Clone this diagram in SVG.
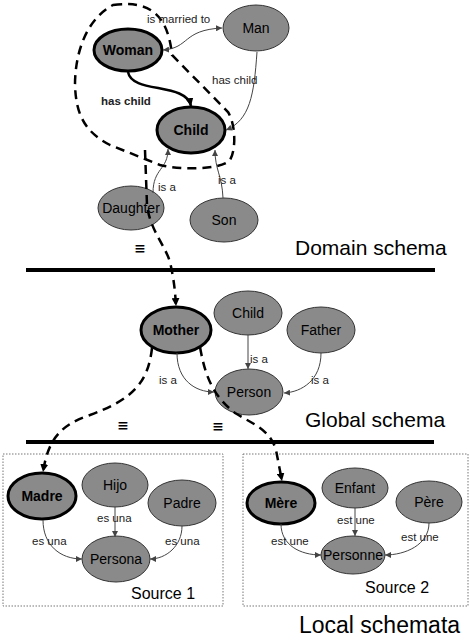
<svg xmlns="http://www.w3.org/2000/svg" width="470" height="641" viewBox="0 0 470 641">
<style>
.n{fill:#8a8a8a;stroke:#333;stroke-width:1}
.b{fill:#8a8a8a;stroke:#000;stroke-width:3}
.t{font-family:"Liberation Sans",Arial,sans-serif;font-size:14px;fill:#000;text-anchor:middle}
.tb{font-family:"Liberation Sans",Arial,sans-serif;font-size:14px;font-weight:bold;fill:#000;text-anchor:middle}
.l{font-family:"Liberation Sans",Arial,sans-serif;font-size:11.5px;fill:#222}
.h{font-family:"Liberation Sans",Arial,sans-serif;font-size:21px;fill:#000}
.eq{font-family:"DejaVu Sans",sans-serif;font-size:14px;font-weight:bold;fill:#000;text-anchor:middle}
.c{fill:none;stroke:#444;stroke-width:1}
.cb{fill:none;stroke:#000;stroke-width:2.5}
.d{fill:none;stroke:#000;stroke-width:2.5;stroke-dasharray:9 6}
.sep{stroke:#000;stroke-width:4}
.box{fill:none;stroke:#777;stroke-width:1;stroke-dasharray:1.5 1.5}
</style>
<defs>
<marker id="a" viewBox="0 0 10 10" refX="10" refY="5" markerWidth="6" markerHeight="6" markerUnits="userSpaceOnUse" orient="auto-start-reverse"><path d="M0,0 L10,5 L0,10 z" fill="#444"/></marker>
<marker id="ab" viewBox="0 0 10 10" refX="10" refY="5" markerWidth="8" markerHeight="8" markerUnits="userSpaceOnUse" orient="auto"><path d="M0,0 L10,5 L0,10 z" fill="#000"/></marker>
</defs>

<g id="separators">
<line class="sep" x1="26" y1="270" x2="435" y2="270"/>
<line class="sep" x1="26" y1="442" x2="434" y2="442"/>
<rect class="box" x="3" y="454" width="220" height="152"/>
<rect class="box" x="243" y="454" width="225" height="152"/>
</g>

<g id="nodes">
<g id="woman"><ellipse class="b" cx="128" cy="50" rx="34" ry="21"/><text class="tb" x="128" y="55">Woman</text></g>
<g id="man"><ellipse class="n" cx="256" cy="28" rx="33" ry="23"/><text class="t" x="256" y="33">Man</text></g>
<g id="child-d"><ellipse class="b" cx="191" cy="130" rx="34" ry="23"/><text class="tb" x="191" y="135">Child</text></g>
<g id="daughter"><ellipse class="n" cx="131" cy="208" rx="33" ry="22"/><text class="t" x="131" y="213">Daughter</text></g>
<g id="son"><ellipse class="n" cx="224" cy="220" rx="34" ry="22"/><text class="t" x="224" y="225">Son</text></g>

<g id="mother"><ellipse class="b" cx="176" cy="330" rx="35" ry="23"/><text class="tb" x="176" y="335">Mother</text></g>
<g id="child-g"><ellipse class="n" cx="248" cy="313" rx="34" ry="22"/><text class="t" x="248" y="318">Child</text></g>
<g id="father"><ellipse class="n" cx="321" cy="330" rx="34" ry="23"/><text class="t" x="321" y="335">Father</text></g>
<g id="person"><ellipse class="n" cx="249" cy="392" rx="34" ry="23"/><text class="t" x="249" y="397">Person</text></g>

<g id="madre"><ellipse class="b" cx="42" cy="496" rx="34" ry="23"/><text class="tb" x="42" y="501">Madre</text></g>
<g id="hijo"><ellipse class="n" cx="115" cy="485" rx="33" ry="22"/><text class="t" x="115" y="490">Hijo</text></g>
<g id="padre"><ellipse class="n" cx="182" cy="503" rx="34" ry="23"/><text class="t" x="182" y="508">Padre</text></g>
<g id="persona"><ellipse class="n" cx="116" cy="559" rx="34" ry="23"/><text class="t" x="116" y="564">Persona</text></g>

<g id="mere"><ellipse class="b" cx="281" cy="503" rx="34" ry="21"/><text class="tb" x="281" y="508">Mère</text></g>
<g id="enfant"><ellipse class="n" cx="355" cy="488" rx="33" ry="20"/><text class="t" x="355" y="493">Enfant</text></g>
<g id="pere"><ellipse class="n" cx="429" cy="502" rx="33" ry="21"/><text class="t" x="429" y="507">Père</text></g>
<g id="personne"><ellipse class="n" cx="353" cy="555" rx="32" ry="19"/><text class="t" x="353" y="560">Personne</text></g>
</g>

<g id="connectors">
<path class="c" d="M163,50 C190,48 182,30 222,28" marker-start="url(#a)" marker-end="url(#a)"/>
<path class="c" d="M257,52 C254,95 250,120 226,130" marker-end="url(#a)"/>
<path class="cb" d="M128,72 C132,94 186,82 191,106" marker-end="url(#ab)"/>
<path class="c" d="M153,193 C153,168 168,170 168,149" marker-end="url(#a)"/>
<path class="c" d="M223,198 C222,175 215,170 215,150" marker-end="url(#a)"/>

<path class="d" d="M113,5 C150,0 168,15 172,55 L228,112 C236,125 236,150 230,160 C222,170 180,170 160,165 L110,145 C85,132 76,115 75,85 C75,55 85,20 113,5 Z"/>
<path class="d" d="M145,150 L147,205 C150,230 165,245 170,262 C174,280 175,290 176,306" marker-end="url(#ab)"/>

<path class="c" d="M248,335 L248,369" marker-end="url(#a)"/>
<path class="c" d="M177,353 C177,380 195,392 214,392" marker-end="url(#a)"/>
<path class="c" d="M321,353 C321,380 302,392 284,393" marker-end="url(#a)"/>

<path class="d" d="M152,348 C148,385 130,400 90,415 C60,425 48,440 43,472" marker-end="url(#ab)"/>
<path class="d" d="M200,347 C205,375 212,395 235,413 C255,425 270,430 276,450 L282,481" marker-end="url(#ab)"/>

<path class="c" d="M43,520 C43,545 60,559 82,559" marker-end="url(#a)"/>
<path class="c" d="M115,507 L115,537" marker-end="url(#a)"/>
<path class="c" d="M182,526 C182,546 166,559 150,559" marker-end="url(#a)"/>

<path class="c" d="M281,524 C281,545 300,555 321,555" marker-end="url(#a)"/>
<path class="c" d="M355,508 L355,536" marker-end="url(#a)"/>
<path class="c" d="M429,523 C429,545 405,555 385,555" marker-end="url(#a)"/>
</g>

<g id="labels">
<text class="l" x="147" y="23">is married to</text>
<text class="l" x="212" y="84">has child</text>
<text class="l" x="101" y="105" style="font-weight:bold">has child</text>
<text class="l" x="158" y="191">is a</text>
<text class="l" x="218" y="184">is a</text>
<text class="l" x="250" y="363">is a</text>
<text class="l" x="159" y="384">is a</text>
<text class="l" x="311" y="384">is a</text>
<text class="l" x="32" y="545">es una</text>
<text class="l" x="97" y="522">es una</text>
<text class="l" x="165" y="545">es una</text>
<text class="l" x="271" y="545">est une</text>
<text class="l" x="337" y="524">est une</text>
<text class="l" x="401" y="541">est une</text>
<text class="eq" x="140" y="253">≡</text>
<text class="eq" x="123" y="430">≡</text>
<text class="eq" x="218" y="431">≡</text>
<text class="h" x="295" y="255">Domain schema</text>
<text class="h" x="305" y="427">Global schema</text>
<text class="h" x="299" y="633" style="font-size:23px">Local schemata</text>
<text class="h" x="131" y="599" style="font-size:16px">Source 1</text>
<text class="h" x="365" y="593" style="font-size:16px">Source 2</text>
</g>
</svg>
